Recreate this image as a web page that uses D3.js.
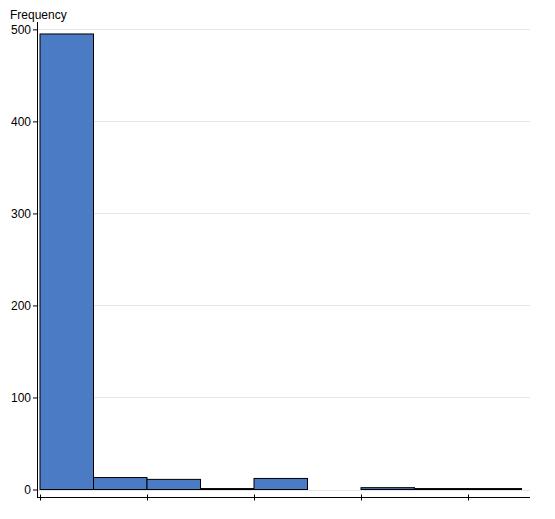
<!DOCTYPE html>
<html>
<head>
<meta charset="utf-8">
<script src="https://cdn.jsdelivr.net/npm/d3@7"></script>
<style>
body { margin: 0; background: #fff; }
text { font-family: "Liberation Sans", Arial, sans-serif; font-size: 12px; fill: #000; }
</style>
</head>
<body>
<svg id="chart" width="555" height="519"></svg>
<script>
// histogram bin counts
const bins = [0, 1, 2, 3, 4, 5, 6, 7, 8];
const counts = [495, 13, 11, 1, 12, 0, 2, 1, 1];
const yTicks = [0, 100, 200, 300, 400, 500];
const xTicks = [0, 2, 4, 6, 8];

const svg = d3.select("#chart");

const x = d3.scaleLinear().domain([0, 9]).range([40, 521.5]);
const y = d3.scaleLinear().domain([0, 508]).range([489.5, 22]);

const plotLeft = 37, plotRight = 530, xAxisY = 497.5;

// gridlines
svg.append("g").selectAll("line")
    .data(yTicks)
    .join("line")
    .attr("x1", plotLeft + 1)
    .attr("x2", plotRight)
    .attr("y1", d => Math.round(y(d)) + 0.5)
    .attr("y2", d => Math.round(y(d)) + 0.5)
    .attr("stroke", "#e6e6e6");

// bars
svg.append("g").selectAll("rect")
    .data(bins)
    .join("rect")
    .attr("x", d => x(d))
    .attr("width", d => x(d + 1) - x(d))
    .attr("y", (d, i) => y(counts[i]))
    .attr("height", (d, i) => y(0) - y(counts[i]))
    .attr("fill", "#4a7bc4")
    .attr("stroke", "#000")
    .attr("stroke-width", 1);

// y axis
const yAxis = svg.append("g")
    .attr("transform", "translate(" + plotLeft + ",0)")
    .call(d3.axisLeft(y).tickValues(yTicks).tickSize(4).tickSizeOuter(0));
yAxis.select(".domain").remove();
yAxis.selectAll("text")
    .attr("x", -6)
    .style("font-family", "Liberation Sans, Arial, sans-serif")
    .style("font-size", "12px");
// y axis line runs down to meet the x axis
svg.append("line")
    .attr("x1", plotLeft + 0.5)
    .attr("x2", plotLeft + 0.5)
    .attr("y1", y.range()[1])
    .attr("y2", xAxisY)
    .attr("stroke", "#000");

// x axis (ticks without labels)
const xAxis = svg.append("g")
    .attr("transform", "translate(0," + xAxisY + ")")
    .call(d3.axisBottom(x).tickValues(xTicks).tickSize(3).tickSizeOuter(0).tickFormat(""));
xAxis.select(".domain").remove();
xAxis.selectAll(".tick line").attr("y1", -3);
svg.append("line")
    .attr("x1", plotLeft)
    .attr("x2", plotRight)
    .attr("y1", xAxisY)
    .attr("y2", xAxisY)
    .attr("stroke", "#000");

svg.append("text")
    .attr("x", 10)
    .attr("y", 19)
    .text("Frequency");
</script>
</body>
</html>
